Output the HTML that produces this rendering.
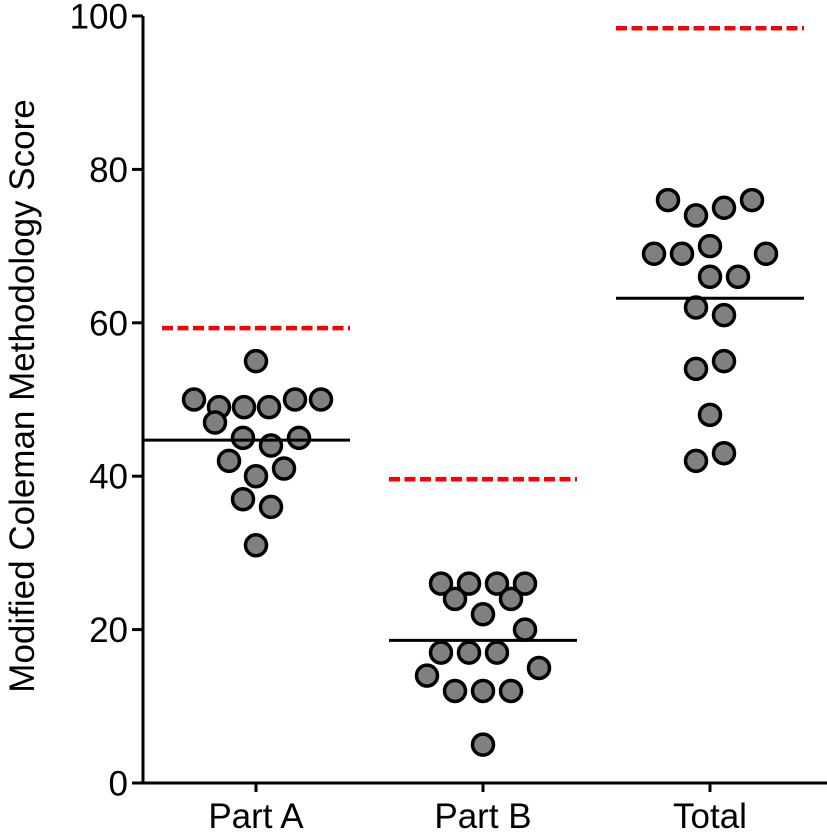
<!DOCTYPE html>
<html><head><meta charset="utf-8"><style>
html,body{margin:0;padding:0;background:#fff;}
svg text{font-family:"Liberation Sans",Arial,sans-serif;fill:#000;}
</style></head><body>
<svg id="chart" width="827" height="833" xmlns="http://www.w3.org/2000/svg"></svg>
<script>
const categories = ["Part A", "Part B", "Total"];
const partAValues = [55,50,49,49,49,50,50,47,45,45,44,42,41,40,37,36,31];
const partAJitter = [0,-62,-37,-12,13,39,65,-41,-13,43,15,-27,28,0,-13,15,0];
const partBValues = [26,26,26,26,24,24,22,20,17,17,17,15,14,12,12,12,5];
const partBJitter = [-42,-14,14,42,-28,28,0,42,-42,-14,14,56,-56,-28,0,28,0];
const totalValues = [76,74,75,76,69,69,70,69,66,66,62,61,55,54,48,42,43];
const totalJitter = [-42,-14,14,42,-56,-28,0,56,0,28,-14,14,14,-14,0,-14,14];
const meanValues = [44.7, 18.6, 63.2];
const referenceValues = [59.3, 39.6, 98.4];
const yTicks = [0,20,40,60,80,100];

const svg = document.getElementById('chart');
const NS = 'http://www.w3.org/2000/svg';
const X0 = 143, X1 = 827, Y0 = 783, Ytop = 16;
const catX = [256, 483, 710];
function yScale(v){ return Y0 - (v/100)*(Y0-Ytop); }
function xScale(i){ return catX[i]; }
function mk(tag, attrs){ const e=document.createElementNS(NS,tag); for(const k in attrs) e.setAttribute(k,attrs[k]); svg.appendChild(e); return e; }

let ax = mk('line',{x1:X0,y1:Ytop,x2:X0,y2:Y0+1.5,stroke:'#000','stroke-width':3});


let axx = mk('line',{x1:X0-1.5,y1:Y0,x2:X1,y2:Y0,stroke:'#000','stroke-width':3});



yTicks.forEach(t=>{
  const y=yScale(t);
  const tk=mk('line',{x1:X0-11,y1:y,x2:X0,y2:y,stroke:'#000','stroke-width':3});
  
  
  const tx=mk('text',{x:X0-15,y:y+12.5,'text-anchor':'end','font-size':35});
  tx.textContent=t;
  
  
});
categories.forEach((c,i)=>{
  const x=xScale(i);
  const tk=mk('line',{x1:x,y1:Y0,x2:x,y2:Y0+9,stroke:'#000','stroke-width':3});
  
  
  const tx=mk('text',{x:x,y:828,'text-anchor':'middle','font-size':35});
  tx.textContent=c;
  
  
});
const title=mk('text',{x:0,y:0,'text-anchor':'middle','font-size':35,transform:'translate(34,396) rotate(-90)'});
title.textContent='Modified Coleman Methodology Score';



referenceValues.forEach((v,i)=>{
  const x=xScale(i), y=yScale(v);
  const l=mk('line',{x1:x-94,y1:y,x2:x+94,y2:y,stroke:'#ff0000','stroke-width':4.5,'stroke-dasharray':'11 4.5'});
  
  
});

const groups=[[partAValues,partAJitter],[partBValues,partBJitter],[totalValues,totalJitter]];
groups.forEach((g,i)=>{
  g[0].forEach((v,j)=>{
    const c=mk('circle',{cx:xScale(i)+g[1][j],cy:yScale(v),r:10.5,fill:'#808080',stroke:'#000','stroke-width':3.5});
    
    
  });
});

meanValues.forEach((v,i)=>{
  const x=xScale(i), y=yScale(v);
  const x1 = i===0 ? X0 : x-94;
  const l=mk('line',{x1:x1,y1:y,x2:x+94,y2:y,stroke:'#000','stroke-width':3});
  
  
});
</script>
</body></html>
